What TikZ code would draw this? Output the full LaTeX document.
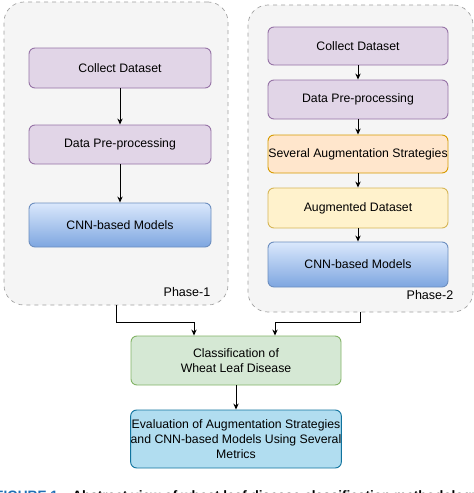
\documentclass[tikz,border=0pt]{standalone}
\usepackage{fontspec}
\setmainfont{Liberation Sans}
\usetikzlibrary{arrows.meta}

\definecolor{purpfill}{HTML}{E1D5E7}
\definecolor{purpline}{HTML}{9673A6}
\definecolor{orngfill}{HTML}{FFE6CC}
\definecolor{orngline}{HTML}{D79B00}
\definecolor{yelwfill}{HTML}{FFF2CC}
\definecolor{yelwline}{HTML}{D6B656}
\definecolor{cnntop}{HTML}{DAE8FC}
\definecolor{cnnbot}{HTML}{7EA6E0}
\definecolor{cnnline}{HTML}{6C8EBF}
\definecolor{grnfill}{HTML}{D5E8D4}
\definecolor{grnline}{HTML}{82B366}
\definecolor{evalfill}{HTML}{B1DDF0}
\definecolor{evalline}{HTML}{10739E}
\definecolor{phasefill}{HTML}{F5F5F5}
\definecolor{capblue}{HTML}{1F6FB5}

\tikzset{
  box/.style={draw, rounded corners=4.5pt, line width=0.7pt, align=center, inner sep=0pt,
    font=\fontsize{9.2}{11}\selectfont},
  purpbox/.style={box, fill=purpfill, draw=purpline},
  augbox/.style={box, fill=orngfill, draw=orngline},
  augdbox/.style={box, fill=yelwfill, draw=yelwline},
  cnnbox/.style={box, top color=cnntop, bottom color=cnnbot, draw=cnnline},
  clsbox/.style={box, fill=grnfill, draw=grnline},
  evalbox/.style={box, fill=evalfill, draw=evalline},
  phase/.style={draw=gray!75, dashed, line width=0.5pt, fill=phasefill, rounded corners=15pt, inner sep=0pt},
  flow/.style={-{Stealth[length=4.5pt,width=4pt]}, line width=0.7pt},
  captext/.style={anchor=base west, inner sep=0pt, font=\bfseries\fontsize{10.2}{12}\selectfont},
}

\begin{document}
\begin{tikzpicture}[x=0.75pt,y=0.75pt,yscale=-1,xscale=1]

\useasboundingbox (0,0) rectangle (474,493);

% phase containers
\node[phase, minimum width=168pt, minimum height=227.25pt] (phaseA) at (116,153.5) {};
\node[phase, minimum width=168.75pt, minimum height=230.25pt] (phaseB) at (360.5,158.5) {};
\draw (187,292) node[font=\fontsize{9.4}{11}\selectfont] (labA) {Phase-1};
\draw (430,295) node[font=\fontsize{9.4}{11}\selectfont] (labB) {Phase-2};

% phase-1 chain
\node[purpbox, minimum width=136.5pt, minimum height=30pt] (collA) at (120,68) {Collect Dataset};
\node[purpbox, minimum width=136.5pt, minimum height=29.25pt] (prepA) at (120,144.5) {Data Pre-processing};
\node[cnnbox, minimum width=136.5pt, minimum height=33pt] (cnnA) at (120,225) {CNN-based Models};

% phase-2 chain
\node[purpbox, minimum width=135pt, minimum height=28.5pt] (collB) at (358,46) {Collect Dataset};
\node[purpbox, minimum width=135pt, minimum height=29.25pt] (prepB) at (358,99.5) {Data Pre-processing};
\node[augbox, minimum width=135pt, minimum height=28.5pt] (augB) at (358,154) {Several Augmentation Strategies};
\node[augdbox, minimum width=135pt, minimum height=30pt] (augdB) at (358,208) {Augmented Dataset};
\node[cnnbox, minimum width=135pt, minimum height=33.75pt] (cnnB) at (358,264.5) {CNN-based Models};

% common part
\node[clsbox, minimum width=157.5pt, minimum height=36.75pt] (cls) at (236,360.5) {Classification of\\Wheat Leaf Disease};
\node[evalbox, minimum width=157.5pt, minimum height=43.5pt] (eval) at (236,439)
  {Evaluation of Augmentation Strategies\\and CNN-based Models Using Several\\Metrics};

\draw[flow] (collA) -- (prepA);
\draw[flow] (prepA) -- (cnnA);
\draw[flow] (collB) -- (prepB);
\draw[flow] (prepB) -- (augB);
\draw[flow] (augB) -- (augdB);
\draw[flow] (augdB) -- (cnnB);
\draw[flow] (phaseA.south) -- ++(0,17) -| ([xshift=-31.5pt]cls.north);
\draw[flow] (phaseB.south) -- ++(0,10) -| ([xshift=29.25pt]cls.north);
\draw[flow] (cls) -- (eval);

% caption, cut by the page edge
\draw (62,500) node[captext, anchor=base east, text=capblue] (capnum) {FIGURE 1.};
\draw (72,500) node[captext] (cap) {Abstract view of wheat leaf disease classification methodology};

\end{tikzpicture}
\end{document}
